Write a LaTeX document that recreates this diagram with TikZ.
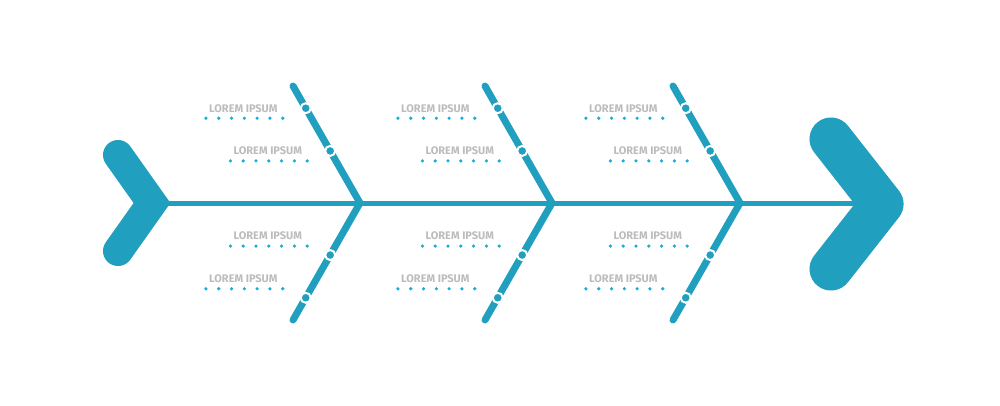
\documentclass[tikz,border=0pt]{standalone}
\usepackage{fontspec}
\setmainfont{Fira Sans}
\usetikzlibrary{calc}
\definecolor{fishblue}{RGB}{33,159,191}
\definecolor{dotblue}{RGB}{30,172,212}
\definecolor{labelgrey}{RGB}{188,188,188}
\tikzset{
    bone/.style={fishblue, line width=7pt, line cap=round, line join=miter},
    bonedot/.style={circle, fill=fishblue, draw=white, line width=2pt, inner sep=0pt, minimum size=10pt},
    lorem/.style={text=labelgrey, font=\bfseries\fontsize{11}{13}\selectfont, inner sep=0pt, anchor=east},
    rowdot/.style={fill=dotblue},
    chevshadow/.style={black!7, line cap=round, shift={(-3,3)}},
}

\begin{document}
\begin{tikzpicture}[x=1pt,y=-1pt]
    \useasboundingbox (0,0) rectangle (1000,406);
    % spine and the two chevrons
    \coordinate (tail) at (152,203);
    \coordinate (head) at (866,203);
    \coordinate (tailtop) at (118,155);
    \coordinate (tailbot) at (118,251);
    \coordinate (headtop) at (831,139);
    \coordinate (headtip) at (882,204);
    \coordinate (headbot) at (831,269);
    \draw[chevshadow, line width=30pt, line join=miter] (tailtop) -- (tail) -- (tailbot);
    \draw[chevshadow, line width=43pt, line join=round] (headtop) -- (headtip) -- (headbot);
    \draw[fishblue, line width=5pt] (tail) -- (head);
    \draw[fishblue, line width=30pt, line cap=round, line join=miter] (tailtop) -- (tail) -- (tailbot);
    \draw[fishblue, line width=43pt, line cap=round, line join=round] (headtop) -- (headtip) -- (headbot);
    % bones
    \foreach \j/\n in {360/a,552/b,740/c}{
        \coordinate (j\n) at (\j,203);
        \coordinate (t\n) at (\j-67,86);
        \coordinate (b\n) at (\j-67,320);
        \draw[bone] (t\n) -- (j\n) -- (b\n);
        \node[bonedot] (d\n1) at ($(j\n)!0.81!(t\n)$) {};
        \node[bonedot] (d\n2) at ($(j\n)!0.445!(t\n)$) {};
        \node[bonedot] (d\n3) at ($(j\n)!0.445!(b\n)$) {};
        \node[bonedot] (d\n4) at ($(j\n)!0.81!(b\n)$) {};
        % labels
        \node[lorem] (l\n1) at ($(d\n1)+(-28,0)$) {LOREM IPSUM};
        \node[lorem] (l\n2) at ($(d\n2)+(-28,0)$) {LOREM IPSUM};
        \node[lorem] (l\n3) at ($(d\n3)+(-28,-19)$) {LOREM IPSUM};
        \node[lorem] (l\n4) at ($(d\n4)+(-28,-19)$) {LOREM IPSUM};
        \foreach \m in {1,2,3,4}{
            \foreach \k in {0,...,6}
                \fill[rowdot] ($(l\n\m.east)+(5-\k*12.8,10)$) circle (1.8);
        }
    }
\end{tikzpicture}
\end{document}
